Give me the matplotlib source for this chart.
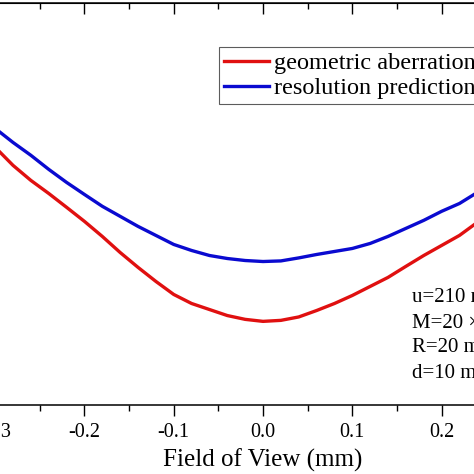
import matplotlib
matplotlib.use("Agg")
import matplotlib.pyplot as plt
from matplotlib.ticker import MultipleLocator

plt.rcParams['font.family'] = ['Liberation Serif', 'DejaVu Serif']

# Field of view (mm)
fov = [-0.30, -0.28, -0.26, -0.24, -0.22, -0.20, -0.18, -0.16, -0.14, -0.12,
       -0.10, -0.08, -0.06, -0.04, -0.02, 0.00, 0.02, 0.04, 0.06, 0.08,
       0.10, 0.12, 0.14, 0.16, 0.18, 0.20, 0.22, 0.24]

geometric_aberration = [12.81, 11.91, 11.16, 10.51, 9.82, 9.12, 8.37, 7.57, 6.83, 6.13,
                        5.48, 5.03, 4.73, 4.43, 4.24, 4.14, 4.19, 4.36, 4.68, 5.03,
                        5.43, 5.88, 6.33, 6.88, 7.42, 7.92, 8.42, 9.07]

resolution_prediction = [13.75, 13.05, 12.41, 11.71, 11.06, 10.46, 9.87, 9.37, 8.87, 8.42,
                         7.97, 7.67, 7.42, 7.27, 7.17, 7.12, 7.15, 7.30, 7.47, 7.62,
                         7.77, 8.02, 8.37, 8.77, 9.17, 9.62, 10.01, 10.56]

params_text = ["u=210 mm", "M=20 \u00d7", "R=20 mm", "d=10 mm"]

fig = plt.figure(figsize=(4.74, 4.74), dpi=100)
# the original is a crop: the axes run past the left and right edges
ax = fig.add_axes([-0.1045, 0.1466, 1.3188, 0.8474])

ax.plot(fov, geometric_aberration, color='#e01010', lw=2.4, label='geometric aberration')
ax.plot(fov, resolution_prediction, color='#0a0ad0', lw=2.4, label='resolution prediction')

ax.set_xlim(-0.35, 0.35)
ax.set_ylim(0, 20)
ax.xaxis.set_major_locator(MultipleLocator(0.1))
ax.xaxis.set_minor_locator(MultipleLocator(0.05))
ax.xaxis.set_major_formatter(plt.FuncFormatter(lambda v, p: f"{v:.1f}"))
ax.tick_params(axis='x', which='major', direction='out', length=8, width=1, labelsize=14.5, pad=5)
ax.tick_params(axis='x', which='minor', direction='out', length=4, width=1)
ax.tick_params(axis='y', left=False, labelleft=False)

# mirrored ticks on the top spine point inward
top = ax.secondary_xaxis('top')
top.xaxis.set_major_locator(MultipleLocator(0.1))
top.xaxis.set_minor_locator(MultipleLocator(0.05))
top.tick_params(axis='x', which='major', direction='in', length=8, width=1, labeltop=False)
top.tick_params(axis='x', which='minor', direction='in', length=4, width=1)

for s in ax.spines.values():
    s.set_linewidth(1.1)

ax.set_xlabel("Field of View (mm)", fontsize=18, labelpad=5)

leg = ax.legend(loc='upper left', bbox_to_anchor=(0.4296, 0.889), fontsize=17.5,
                frameon=True, fancybox=False, edgecolor='#333333',
                handlelength=1.85, handletextpad=0.2, borderpad=0.2,
                labelspacing=0.12, borderaxespad=0)
leg.get_frame().set_linewidth(0.8)

for i, t in enumerate(params_text):
    fig.text(412 / 474, 1 - (298 + 25 * i) / 474, t, fontsize=15, va='center', ha='left')

fig.savefig("out.png", dpi=100)
